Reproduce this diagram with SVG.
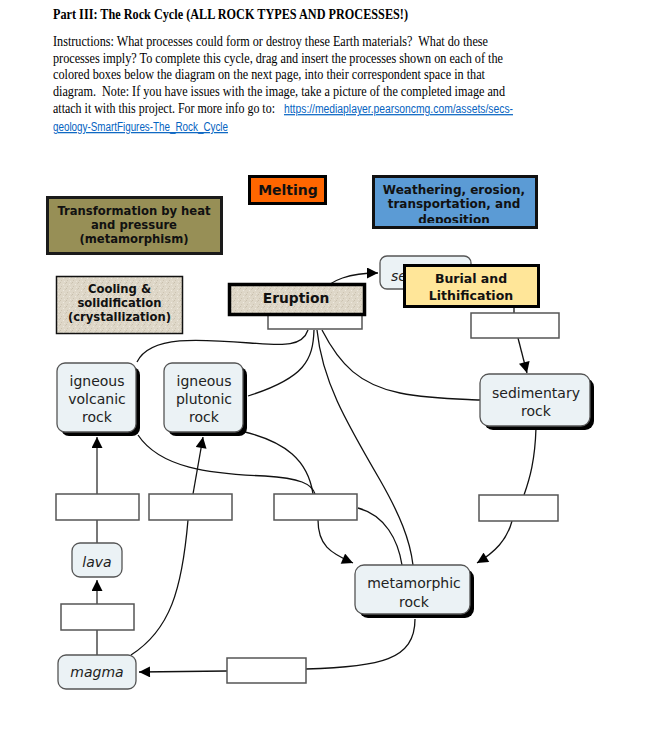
<svg xmlns="http://www.w3.org/2000/svg" width="649" height="732" viewBox="0 0 649 732">
<defs>
<style>
.title{font-family:"Liberation Serif",serif;font-weight:bold;font-size:15px;fill:#000}
.body{font-family:"Liberation Serif",serif;font-size:12px;fill:#000}
.link{font-family:"Liberation Sans",Arial,sans-serif;font-size:10.5px;fill:#0563C1;text-decoration:underline}
.node{fill:#EBF2F5;stroke:#555;stroke-width:1.3}
.shadow{fill:#000}
.nt{font-family:"DejaVu Sans",Verdana,sans-serif;font-size:14px;fill:#222;text-anchor:middle}
.it{font-style:italic}
.blank{fill:#fff;stroke:#555;stroke-width:1.5}
.c{fill:none;stroke:#111;stroke-width:1.3}
.g{fill:none;stroke:#555;stroke-width:1.6}
.bt{font-family:"DejaVu Sans",Verdana,sans-serif;font-weight:bold;fill:#111;text-anchor:middle}
</style>
<marker id="ah" viewBox="0 0 10 10" refX="10" refY="5" markerWidth="12" markerHeight="11" markerUnits="userSpaceOnUse" orient="auto">
<path d="M0,0 L10,5 L0,10 z" fill="#000"/>
</marker>
<pattern id="tex" width="6" height="6" patternUnits="userSpaceOnUse">
<rect width="6" height="6" fill="#DED7C8"/>
<rect x="0" y="0" width="1" height="1" fill="#C9C0AE"/>
<rect x="3" y="2" width="1" height="1" fill="#EFEAE0"/>
<rect x="1" y="4" width="1" height="1" fill="#CDC4B2"/>
<rect x="4" y="5" width="1" height="1" fill="#EAE4D8"/>
<rect x="5" y="1" width="1" height="1" fill="#D0C8B7"/>
</pattern>
<clipPath id="wclip"><rect x="372" y="175" width="166" height="48"/></clipPath>
</defs>
<rect width="649" height="732" fill="#fff"/>

<g id="header">
<text class="title" x="53" y="19" textLength="355" lengthAdjust="spacingAndGlyphs">Part III: The Rock Cycle (ALL ROCK TYPES AND PROCESSES!)</text>
<g transform="scale(1,1.15)">
<text class="body" x="53" y="40.4" textLength="435" lengthAdjust="spacingAndGlyphs" xml:space="preserve">Instructions: What processes could form or destroy these Earth materials?  What do these</text>
<text class="body" x="53" y="54.8" textLength="450" lengthAdjust="spacingAndGlyphs">processes imply? To complete this cycle, drag and insert the processes shown on each of the</text>
<text class="body" x="53" y="69.1" textLength="432" lengthAdjust="spacingAndGlyphs">colored boxes below the diagram on the next page, into their correspondent space in that</text>
<text class="body" x="53" y="83.5" textLength="452" lengthAdjust="spacingAndGlyphs" xml:space="preserve">diagram.  Note: If you have issues with the image, take a picture of the completed image and</text>
<text class="body" x="53" y="98.3" textLength="222" lengthAdjust="spacingAndGlyphs">attach it with this project. For more info go to:</text>
<text class="link" x="284" y="98.3" textLength="229" lengthAdjust="spacingAndGlyphs">https://mediaplayer.pearsoncmg.com/assets/secs-</text>
<text class="link" x="53" y="113.9" textLength="175" lengthAdjust="spacingAndGlyphs">geology-SmartFigures-The_Rock_Cycle</text>
</g>
</g>

<g id="connectors">
<path class="c" d="M322,292 C330,280 350,273 378,273" marker-end="url(#ah)"/>
<path class="c" d="M308,330 C302,348 280,345 250,343 C200,339 150,335 137,362"/>
<path class="c" d="M314,330 C313,360 305,378 248,396"/>
<path class="c" d="M317,330 C322,380 345,420 380,480 C400,515 410,540 413,565"/>
<path class="c" d="M322,330 C340,365 360,385 400,393 C430,399 460,399 480,400"/>
<path class="g" d="M97,494 L97,437" marker-end="url(#ah)"/>
<path class="g" d="M97,520 L97,543"/>
<path class="g" d="M97,604 L97,580" marker-end="url(#ah)"/>
<path class="g" d="M97,655 L97,630"/>
<path class="c" d="M193,494 L203,437" marker-end="url(#ah)"/>
<path class="c" d="M188,520 C182,590 170,630 131,655"/>
<path class="c" d="M138,435 C160,468 210,474 265,476 C300,478 312,484 315,494"/>
<path class="c" d="M245,432 C285,442 308,460 313,494"/>
<path class="c" d="M318,520 C318,545 330,553 353,563" marker-end="url(#ah)"/>
<path class="c" d="M358,508 C385,515 398,540 402,565"/>
<path class="c" d="M514,289 L514,313"/>
<path class="c" d="M518,338 L527,373" marker-end="url(#ah)"/>
<path class="c" d="M536,428 C535,460 530,478 524,495"/>
<path class="c" d="M512,521 C507,540 495,552 477,563" marker-end="url(#ah)"/>
<path class="c" d="M415,619 C415,660 380,667 306,669"/>
<path class="c" d="M227,671 L139,672" marker-end="url(#ah)"/>
</g>

<g id="blank-boxes">
<rect class="blank" x="268" y="305" width="94" height="24"/>
<rect class="blank" x="471" y="313" width="88" height="25"/>
<rect class="blank" x="56" y="494" width="83" height="26"/>
<rect class="blank" x="149" y="494" width="83" height="26"/>
<rect class="blank" x="274" y="494" width="83" height="26"/>
<rect class="blank" x="479" y="495" width="79" height="26"/>
<rect class="blank" x="61" y="604" width="73" height="26"/>
<rect class="blank" x="227" y="658" width="79" height="25"/>
</g>

<g id="igneous-volcanic-rock">
<rect class="shadow" x="61" y="367" width="79" height="69" rx="8"/>
<rect class="node" x="57" y="363" width="79" height="69" rx="8"/>
<text class="nt" x="97" y="386">igneous</text>
<text class="nt" x="97" y="404">volcanic</text>
<text class="nt" x="97" y="422">rock</text>
</g>
<g id="igneous-plutonic-rock">
<rect class="shadow" x="168" y="367" width="79" height="69" rx="8"/>
<rect class="node" x="164" y="363" width="79" height="69" rx="8"/>
<text class="nt" x="204" y="386">igneous</text>
<text class="nt" x="204" y="404">plutonic</text>
<text class="nt" x="204" y="422">rock</text>
</g>
<g id="sedimentary-rock">
<rect class="shadow" x="484" y="378" width="110" height="52" rx="9"/>
<rect class="node" x="480" y="374" width="110" height="52" rx="9"/>
<text class="nt" x="536" y="398">sedimentary</text>
<text class="nt" x="536" y="416">rock</text>
</g>
<g id="metamorphic-rock">
<rect class="shadow" x="359" y="569" width="115" height="49" rx="9"/>
<rect class="node" x="355" y="565" width="115" height="49" rx="9"/>
<text class="nt" x="414" y="588">metamorphic</text>
<text class="nt" x="414" y="607">rock</text>
</g>
<g id="lava">
<rect class="node" x="72" y="543" width="50" height="34" rx="8"/>
<text class="nt it" x="97" y="567">lava</text>
</g>
<g id="magma">
<rect class="node" x="58" y="655" width="78" height="34" rx="8"/>
<text class="nt it" x="97" y="677">magma</text>
</g>
<g id="sediment">
<rect class="node" x="380" y="256" width="91" height="33" rx="7"/>
<text class="nt it" x="391" y="281" style="text-anchor:start">se</text>
</g>

<g id="melting">
<rect x="249.5" y="176.5" width="76" height="27" fill="#FF6600" stroke="#000" stroke-width="3"/>
<text class="bt" x="288" y="195" font-size="14">Melting</text>
</g>
<g id="weathering">
<rect x="373.5" y="176.5" width="163" height="51" fill="#5B9BD5" stroke="#111" stroke-width="3"/>
<g clip-path="url(#wclip)">
<text class="bt" x="454" y="194" font-size="12">Weathering, erosion,</text>
<text class="bt" x="454" y="207.5" font-size="12">transportation, and</text>
<text class="bt" x="454" y="223.5" font-size="12">deposition</text>
</g>
</g>
<g id="transformation">
<rect x="47.5" y="197.5" width="174" height="56" fill="#978F56" stroke="#1a1a1a" stroke-width="3"/>
<text class="bt" x="134" y="215" font-size="11.6">Transformation by heat</text>
<text class="bt" x="134" y="229" font-size="11.6">and pressure</text>
<text class="bt" x="134" y="243" font-size="11.6">(metamorphism)</text>
</g>
<g id="cooling">
<rect x="56.5" y="276.5" width="126" height="57" fill="url(#tex)" stroke="#111" stroke-width="1.5"/>
<text class="bt" x="119.5" y="293" font-size="11.6">Cooling &amp;</text>
<text class="bt" x="119.5" y="307" font-size="11.6">solidification</text>
<text class="bt" x="119.5" y="321" font-size="11.6">(crystallization)</text>
</g>
<g id="eruption">
<rect x="229.5" y="284.5" width="135" height="30" fill="url(#tex)" stroke="#000" stroke-width="3.5"/>
<text class="bt" x="296" y="303" font-size="13.8">Eruption</text>
</g>
<g id="burial">
<rect x="404.5" y="265.5" width="134" height="41" fill="#FFE699" stroke="#000" stroke-width="3"/>
<text class="bt" x="471" y="282.5" font-size="12.5">Burial and</text>
<text class="bt" x="471" y="299.5" font-size="12.5">Lithification</text>
</g>
</svg>
